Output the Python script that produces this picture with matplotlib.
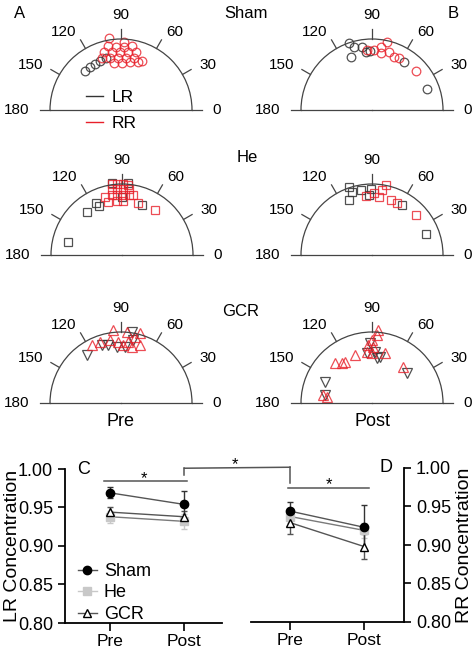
import numpy as np
import matplotlib
matplotlib.use('Agg')
import matplotlib.pyplot as plt
from matplotlib.lines import Line2D
from matplotlib.patches import ConnectionPatch

plt.rcParams['font.family'] = ['Liberation Sans', 'DejaVu Sans']

# ---- donnees polaires : angle (deg) et rayon (fraction de l'arc) ----
sham_pre_lr_ang = [132.7, 125.8, 119.5, 113.2, 106.1]
sham_pre_lr_r = [0.75, 0.75, 0.74, 0.75, 0.76]
sham_pre_rr_ang = [99.5, 87.5, 101.5, 94.5, 87.3, 80.2, 106.3, 98.8, 91.0, 83.1, 75.5,
                   110.0, 102.0, 93.3, 84.5, 76.0, 66.8, 98.5, 88.8, 79.4, 70.5]
sham_pre_rr_r = [1.03, 0.96, 0.92, 0.89, 0.89, 0.91, 0.85, 0.83, 0.82, 0.82, 0.84,
                 0.78, 0.75, 0.73, 0.74, 0.75, 0.75, 0.67, 0.66, 0.69, 0.72]

sham_post_lr_ang = [108.9, 105.9, 111.6, 99.0, 95.9, 91.9, 56.3, 20.9]
sham_post_lr_r = [1.00, 0.92, 0.80, 0.90, 0.82, 0.83, 0.81, 0.83]
sham_post_rr_ang = [88.1, 81.9, 81.0, 77.6, 73.7, 67.5, 62.6, 41.6, 94.8]
sham_post_rr_r = [0.85, 0.90, 0.81, 0.98, 0.85, 0.81, 0.83, 0.83, 0.85]

he_pre_lr_ang = [166.5, 129.1, 116.6, 115.1, 97.9, 85.2, 68.2, 90.0]
he_pre_lr_r = [0.78, 0.78, 0.82, 0.76, 1.02, 1.02, 0.76, 0.82]
he_pre_rr_ang = [98.0, 94.0, 89.2, 85.1, 98.6, 94.3, 89.1, 84.0, 99.5, 94.8, 89.0, 83.3,
                 106.3, 104.8, 95.3, 88.9, 79.6, 72.9, 53.7]
he_pre_rr_r = [1.01, 1.00, 1.00, 0.99, 0.94, 0.93, 0.93, 0.93, 0.86, 0.85, 0.85, 0.85,
               0.85, 0.77, 0.76, 0.76, 0.86, 0.77, 0.79]

he_post_lr_ang = [108.7, 107.6, 112.7, 99.6, 90.9, 92.9, 59.0, 21.3]
he_post_lr_r = [1.01, 0.93, 0.84, 0.93, 0.93, 0.85, 0.82, 0.82]
he_post_rr_ang = [95.8, 88.2, 83.1, 78.7, 81.3, 70.9, 64.3, 42.3]
he_post_rr_r = [0.84, 0.87, 0.82, 1.01, 0.93, 0.82, 0.81, 0.84]

gcr_pre_lr_ang = [125.3, 108.1, 102.6, 94.1, 85.9, 81.2, 79.2]
gcr_pre_lr_r = [0.83, 0.86, 0.84, 0.79, 0.79, 1.01, 0.90]
gcr_pre_rr_ang = [116.6, 109.0, 96.3, 99.9, 92.8, 85.2, 83.5, 78.0, 74.8, 71.9, 78.9, 88.0]
gcr_pre_rr_r = [0.91, 0.91, 1.03, 0.90, 0.86, 1.00, 0.86, 0.95, 1.02, 0.86, 0.80, 0.82]

gcr_post_lr_ang = [91.9, 86.6, 95.7, 80.1, 83.7, 40.6, 155.9, 170.3]
gcr_post_lr_r = [0.85, 0.72, 0.71, 0.66, 0.64, 0.65, 0.73, 0.67]
gcr_post_rr_ang = [85.3, 85.8, 90.0, 94.0, 89.0, 95.6, 90.0, 109.5, 132.8, 126.9, 123.4,
                   75.4, 49.3, 170.7, 172.4]
gcr_post_rr_r = [1.03, 0.96, 0.89, 0.82, 0.79, 0.72, 0.70, 0.72, 0.77, 0.70, 0.69,
                 0.73, 0.67, 0.70, 0.64]

angle_ticks = [0, 30, 60, 90, 120, 150, 180]

# ---- concentrations (moyenne, erreur) ----
temps = ['Pre', 'Post']
lr_sham = [0.969, 0.954]
lr_sham_err = [0.007, 0.017]
lr_he = [0.938, 0.932]
lr_he_err = [0.008, 0.010]
lr_gcr = [0.944, 0.938]
lr_gcr_err = [0.006, 0.008]
rr_sham = [0.944, 0.923]
rr_sham_err = [0.012, 0.029]
rr_he = [0.937, 0.919]
rr_he_err = [0.008, 0.010]
rr_gcr = [0.929, 0.898]
rr_gcr_err = [0.015, 0.016]

W, H = 474, 654
fig = plt.figure(figsize=(W / 100, H / 100), dpi=100)

NOIR = '#333333'
ROUGE = '#e8202a'
TRAIT = '#444444'


def demi_polaire(cx, cy, lr_ang, lr_r, rr_ang, rr_r, m_lr, m_rr, ms):
    R = 71
    ax = fig.add_axes([(cx - R) / W, (H - cy - 0.5 * R) / H, 2 * R / W, 2 * R / H],
                      projection='polar')
    ax.set_thetamin(0)
    ax.set_thetamax(180)
    ax.set_ylim(0, 1)
    ax.set_yticks([])
    ax.set_xticks([])
    ax.grid(False)
    ax.patch.set_visible(False)
    for s in ax.spines.values():
        s.set_color(TRAIT)
        s.set_linewidth(0.9)
    # graduations vers l'exterieur + etiquettes
    for t in angle_ticks:
        th = np.deg2rad(t)
        ax.plot([th, th], [1.0, 1.14], color=TRAIT, lw=0.9, clip_on=False)
        if t == 90:
            rl, ha = 1.34, 'center'
        elif t in (0, 180):
            rl, ha = 1.29, ('left' if t == 0 else 'right')
        else:
            rl, ha = 1.27, ('left' if t < 90 else 'right')
        ax.text(th, rl, str(t), fontsize=11, ha=ha, va='center', clip_on=False)
    ax.plot(np.deg2rad(lr_ang), lr_r, ls='none', marker=m_lr, ms=ms, mfc='none',
            mec=NOIR, mew=0.9, alpha=0.85, clip_on=False)
    ax.plot(np.deg2rad(rr_ang), rr_r, ls='none', marker=m_rr, ms=ms, mfc='none',
            mec=ROUGE, mew=0.9, alpha=0.8, clip_on=False)
    return ax


demi_polaire(121, 110, sham_pre_lr_ang, sham_pre_lr_r, sham_pre_rr_ang, sham_pre_rr_r, 'o', 'o', 6.2)
demi_polaire(372, 110, sham_post_lr_ang, sham_post_lr_r, sham_post_rr_ang, sham_post_rr_r, 'o', 'o', 6.2)
demi_polaire(122, 255, he_pre_lr_ang, he_pre_lr_r, he_pre_rr_ang, he_pre_rr_r, 's', 's', 5.8)
demi_polaire(372, 255, he_post_lr_ang, he_post_lr_r, he_post_rr_ang, he_post_rr_r, 's', 's', 5.8)
demi_polaire(121, 403, gcr_pre_lr_ang, gcr_pre_lr_r, gcr_pre_rr_ang, gcr_pre_rr_r, 'v', '^', 7)
demi_polaire(372, 403, gcr_post_lr_ang, gcr_post_lr_r, gcr_post_rr_ang, gcr_post_rr_r, 'v', '^', 7)

# legende LR / RR
fig.legend(handles=[Line2D([], [], color=NOIR, lw=1), Line2D([], [], color=ROUGE, lw=1)],
           labels=['LR', 'RR'], loc='upper left', bbox_to_anchor=(86 / W, 1 - 90 / H),
           frameon=False, fontsize=12.5, handlelength=1.0, handletextpad=0.5,
           labelspacing=0.6, borderpad=0, borderaxespad=0)

# textes
fig.text(20 / W, 1 - 13 / H, 'A', fontsize=12, ha='center', va='center')
fig.text(453 / W, 1 - 13 / H, 'B', fontsize=12, ha='center', va='center')
fig.text(246 / W, 1 - 13 / H, 'Sham', fontsize=12, ha='center', va='center')
fig.text(247 / W, 1 - 157 / H, 'He', fontsize=12, ha='center', va='center')
fig.text(241 / W, 1 - 311 / H, 'GCR', fontsize=12, ha='center', va='center')
fig.text(121 / W, 1 - 421 / H, 'Pre', fontsize=13, ha='center', va='center')
fig.text(372 / W, 1 - 421 / H, 'Post', fontsize=13, ha='center', va='center')


# ---- graphes C et D ----
def concentration(ax, sham, sham_err, he, he_err, gcr, gcr_err):
    x = np.arange(len(temps))
    ax.errorbar(x, he, yerr=he_err, color='#7a7a7a', marker='s', ms=6, mfc='#c8c8c8',
                mec='#c8c8c8', ecolor='#c8c8c8', elinewidth=1, capsize=2.5, lw=1)
    ax.errorbar(x, gcr, yerr=gcr_err, color='#555555', marker='^', ms=6, mfc='white',
                mec='black', ecolor='#555555', elinewidth=1, capsize=2.5, lw=1)
    ax.errorbar(x, sham, yerr=sham_err, color='#555555', marker='o', ms=6, mfc='black',
                mec='black', ecolor='#333333', elinewidth=1, capsize=2.5, lw=1)
    ax.set_ylim(0.80, 1.00)
    ax.set_yticks([0.80, 0.85, 0.90, 0.95, 1.00])
    ax.set_yticklabels(['%.2f' % v for v in [0.80, 0.85, 0.90, 0.95, 1.00]])
    ax.set_xticks(x)
    ax.set_xticklabels(temps)
    ax.tick_params(labelsize=13, width=1.2, length=5)
    ax.tick_params(axis='x', length=6, pad=2, labelsize=12.5)
    ax.spines['top'].set_visible(False)
    for s in ax.spines.values():
        s.set_linewidth(1.3)
    ax.patch.set_visible(False)


ax_c = fig.add_axes([65 / W, 1 - 623 / H, 157 / W, 154 / H])
concentration(ax_c, lr_sham, lr_sham_err, lr_he, lr_he_err, lr_gcr, lr_gcr_err)
ax_c.set_xlim(-0.61, 1.51)
ax_c.spines['right'].set_visible(False)
ax_c.set_ylabel('LR Concentration', fontsize=14)
ax_c.yaxis.set_label_coords(-0.28, 0.5)
poignees = [Line2D([], [], color='#555555', marker='o', ms=6, mfc='black', mec='black', lw=1),
            Line2D([], [], color='#c8c8c8', marker='s', ms=6, mfc='#c8c8c8', mec='#c8c8c8', lw=1),
            Line2D([], [], color='#555555', marker='^', ms=6, mfc='white', mec='black', lw=1)]
ax_c.legend(poignees, ['Sham', 'He', 'GCR'], loc='lower left',
            bbox_to_anchor=(0.08, 0.0), frameon=False, fontsize=13, handlelength=1.1,
            handletextpad=0.35, labelspacing=0.25, borderpad=0, borderaxespad=0)
ax_c.text(0.12, 1.0, 'C', transform=ax_c.transAxes, fontsize=13, va='center', ha='center')

ax_d = fig.add_axes([251 / W, 1 - 622 / H, 153 / W, 154 / H])
concentration(ax_d, rr_sham, rr_sham_err, rr_he, rr_he_err, rr_gcr, rr_gcr_err)
ax_d.set_xlim(-0.53, 1.54)
ax_d.spines['left'].set_visible(False)
ax_d.yaxis.tick_right()
ax_d.yaxis.set_label_position('right')
ax_d.set_ylabel('RR Concentration', fontsize=14, rotation=90)
ax_d.yaxis.set_label_coords(1.34, 0.5)
ax_d.text(0.88, 1.0, 'D', transform=ax_d.transAxes, fontsize=13, va='center', ha='center')

# significativite
gris = '#555555'
ax_c.plot([-0.08, 1.04], [0.984, 0.984], color=gris, lw=1.1, clip_on=False)
ax_c.text(0.45, 0.988, '*', fontsize=12, ha='center', va='center')
ax_d.plot([-0.03, 1.07], [0.974, 0.974], color=gris, lw=1.1, clip_on=False)
ax_d.text(0.53, 0.978, '*', fontsize=12, ha='center', va='center')
ax_c.plot([1, 1], [0.992, 1.001], color=gris, lw=1.1, clip_on=False)
ax_d.plot([0, 0], [1.001, 0.981], color=gris, lw=1.1, clip_on=False)
fig.add_artist(ConnectionPatch(xyA=(1, 1.001), coordsA=ax_c.transData,
                               xyB=(0, 1.001), coordsB=ax_d.transData,
                               color=gris, lw=1.1))
ax_c.text(1.68, 1.006, '*', fontsize=12, ha='center', va='center', clip_on=False)

fig.savefig('out.png', dpi=100)
